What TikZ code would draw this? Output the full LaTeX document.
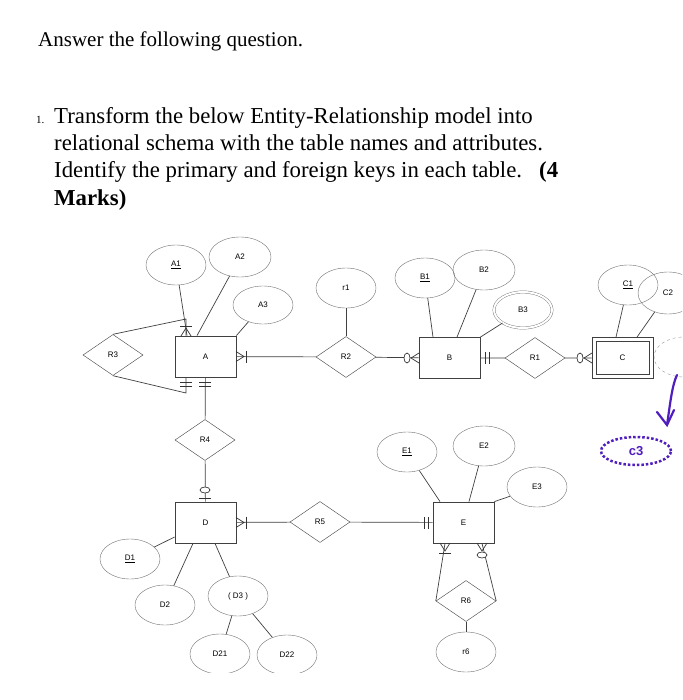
\documentclass[tikz,border=0pt]{standalone}
\usepackage{fontspec}
\setmainfont{Liberation Serif}
\newfontfamily\lab{Liberation Sans}
\usetikzlibrary{shapes.geometric,arrows.meta}
\tikzset{
 ent/.style={draw=black!75,line width=0.8pt,minimum width=61pt,minimum height=41pt,inner sep=0pt,font=\lab\fontsize{8}{9}\selectfont},
 att/.style={draw=black!55,ellipse,minimum width=60pt,minimum height=40pt,inner sep=0pt,font=\lab\fontsize{8}{9}\selectfont},
 rel/.style={draw=black!75,diamond,aspect=1.5,minimum width=60pt,minimum height=41pt,inner sep=0pt,font=\lab\fontsize{8}{9}\selectfont},
 ln/.style={draw=black!75,line width=0.7pt},
 mk/.style={draw=black!80,line width=0.7pt}
}
\newcommand\crowm{\draw[mk] (0,-5)--(8,0)--(0,5);}
\newcommand\barm[1]{\draw[mk] (#1,-6)--(#1,6);}
\newcommand\circm{\draw[mk,fill=white] (12,0) ellipse (3pt and 5pt);}
\newcommand\atm[3]{\begin{scope}[shift={#1},rotate=#2]#3\end{scope}}
\begin{document}
\begin{tikzpicture}[x=1pt,y=-1pt]
\fill[white] (0,0) rectangle (682,700);
\clip (0,0) rectangle (682,700);
\node[anchor=base west,font=\fontsize{21}{24}\selectfont,inner sep=0pt] (q) at (38,47) {Answer the following question.};
\node[anchor=base west,font=\fontsize{11}{12}\selectfont,inner sep=0pt] (n1) at (36,124) {1.};
\begin{scope}[every node/.style={anchor=base west,inner sep=0pt,font=\fontsize{22.8}{26}\selectfont}]
\node (l1) at (54,124) {Transform the below Entity-Relationship model into};
\node (l2) at (54,151) {relational schema with the table names and attributes.};
\node (l3) at (54,178) {Identify the primary and foreign keys in each table.\ \ \ \textbf{(4}};
\node (l4) at (54,206) {\textbf{Marks)}};
\end{scope}
% entities
\node[ent] (A) at (205.5,356.5) {A};
\node[ent] (B) at (449.5,358) {B};
\node[ent] (C) at (622.5,358) {C};
\node[draw=black!75,line width=0.8pt,minimum width=53pt,minimum height=33pt,inner sep=0pt] (Ci) at (C.center) {};
\node[ent] (D) at (205.5,522.5) {D};
\node[ent] (E) at (463.5,522.5) {E};
% relations
\node[rel] (R3) at (113,355) {R3};
\node[rel] (R2) at (346,357) {R2};
\node[rel] (R1) at (535,358) {R1};
\node[rel] (R4) at (205,440) {R4};
\node[rel] (R5) at (320,522) {R5};
\node[rel] (R6) at (466,601) {R6};
% attributes
\node[att] (A1) at (176,265) {\underline{A1}};
\node[att,minimum width=62pt] (A2) at (240,257) {A2};
\node[att,minimum height=38pt] (A3) at (263,305) {A3};
\node[att] (r1) at (346,288) {r1};
\node[att] (B1) at (425,278) {\underline{B1}};
\node[att,minimum width=62pt] (B2) at (484,270) {B2};
\node[att,double,double distance=2pt,minimum width=58pt,minimum height=36pt] (B3) at (523,310) {B3};
\node[att] (C1) at (628,285) {\underline{C1}};
\node[att,minimum height=42pt] (C2) at (668,293) {C2};
\node[att,dashed,draw=black!40] (C3) at (684,357) {};
\node[att] (E1) at (407,452) {\underline{E1}};
\node[att,minimum width=62pt] (E2) at (484,446) {E2};
\node[att] (E3) at (537,487) {E3};
\node[att] (D1) at (130,559) {\underline{D1}};
\node[att] (D2) at (165,605) {D2};
\node[att] (D3) at (238,596) {( D3 )};
\begin{scope}
\clip (0,0) rectangle (682,672);
\node[att] (D21) at (220,654) {D21};
\node[att] (D22) at (287,655) {D22};
\node[att] (r6) at (466,652) {r6};
\end{scope}
% attribute links
\draw[ln] (A1)--(A.north-|187,0);
\draw[ln] (A2)--(A.north-|197,0);
\draw[ln] (A3)--(A.north east);
\draw[ln] (r1)--(R2);
\draw[ln] (B1)--(B.north-|433,0);
\draw[ln] (B2)--(B.north-|457,0);
\draw[ln] (B3)--(B.north east);
\draw[ln] (C1)--(C.north-|616,0);
\draw[ln] (C2)--(C.north-|637,0);
\draw[ln] (C.east)--(C3);
\draw[ln] (E1)--(E.north-|440,0);
\draw[ln] (E2)--(E.north-|469,0);
\draw[ln] (E3)--(E.north east);
\draw[ln] (D1)--(D.south west|-0,537);
\draw[ln] (D2)--(D.south-|193,0);
\draw[ln] (D3)--(D.south-|215,0);
\draw[ln] (D3)--(D21);
\draw[ln] (D3)--(D22);
\draw[ln] (r6)--(R6);
% relationship links
\coordinate (t3) at (186,319);
\coordinate (b3) at (186,393);
\draw[ln] (R3.north)--(t3)--(A.north-|t3);
\draw[ln] (R3.south)--(b3)--(A.south-|b3);
\draw[ln] (A)--(R4)--(D);
\draw[ln] (A)--(R2)--(B)--(R1)--(C);
\draw[ln] (D)--(R5)--(E);
\draw[ln] (R6.west)--(E.south-|445,0);
\draw[ln] (R6.east)--(E.south-|482,0);
% cardinality marks
\atm{(186,336)}{90}{\crowm\barm{10}}
\atm{(186,377)}{-90}{\barm{5}\barm{9}}
\atm{(205,377)}{-90}{\barm{5}\barm{9}}
\atm{(236,356.5)}{0}{\crowm\barm{10}}
\atm{(205,502)}{90}{\barm{4}\circm}
\atm{(419,358)}{180}{\crowm\circm}
\atm{(480,358)}{0}{\barm{5}\barm{9}}
\atm{(592,358)}{180}{\crowm\circm}
\atm{(236,522.5)}{0}{\crowm\barm{10}}
\atm{(433,522.5)}{180}{\barm{5}\barm{9}}
\atm{(445,543)}{-90}{\crowm\barm{10}}
\atm{(482,543)}{-90}{\crowm\circm}
% handwritten annotation
\definecolor{pen}{RGB}{80,30,190}
\coordinate (h0) at (677,375);
\coordinate (h1) at (667,425);
\draw[pen,line width=2.2pt,line cap=round] (h0) .. controls (672,385) and (670,405) .. (h1);
\draw[pen,line width=2.2pt,line cap=round] (657,412)--(h1)--(674,410);
\node[draw=pen,ellipse,dotted,line width=2.5pt,minimum width=70pt,minimum height=28pt,text=pen,font=\lab\bfseries\fontsize{13}{13}\selectfont,inner sep=0pt] (c3) at (636,451) {c3};
\end{tikzpicture}
\end{document}
